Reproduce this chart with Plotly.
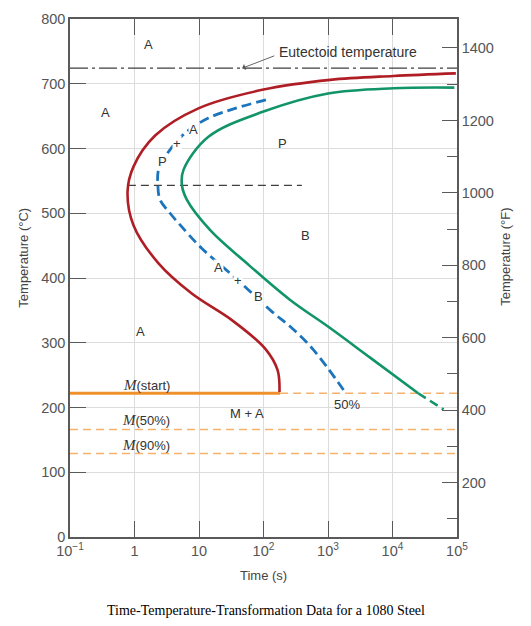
import math
import plotly.graph_objects as go

# ---------------- data (time in s, temperature in °C) ----------------
red_t = [9.6e4, 1.03e4, 1080, 100, 9.8, 2.09, 0.965, 0.78, 0.96, 2.34, 7.73, 32.3, 106, 165, 177]
red_T = [716, 712, 706, 691, 662, 620, 572, 533, 482, 423, 376, 335, 291, 258, 224]

blue_t = [109, 36.4, 14.0, 6.1, 3.37, 2.36, 2.30, 2.49, 3.56, 5.09, 11.0, 40.8, 135, 259, 596, 1742]
blue_T = [675, 662, 647, 624, 595, 567, 544, 521, 500, 482, 446, 396, 348, 325, 289, 227]

green_t = [9.1e4, 1.03e4, 1000, 100, 14.0, 5.75, 5.43, 6.47, 14.9, 51.9, 259, 1000, 4500, 2.5e4]
green_T = [694, 693, 685, 657, 618, 567, 544, 521, 474, 425, 366, 325, 277, 222]
green_tail_t = [2.5e4, 6.2e4]
green_tail_T = [222, 197]

eutectoid_T = 724
nose_line_T = 543
nose_line_t = [0.79, 393]
m_start_T = 222
m_start_end_t = 181
m50_T = 166
m90_T = 129
t_min, t_max = 0.1, 1e5

x_tickvals = [0.1, 1, 10, 100, 1000, 1e4, 1e5]
x_ticktext = ["10<sup>−1</sup>", "1", "10", "10<sup>2</sup>", "10<sup>3</sup>", "10<sup>4</sup>", "10<sup>5</sup>"]
yC_ticks = [0, 100, 200, 300, 400, 500, 600, 700, 800]
yF_ticks = [200, 400, 600, 800, 1000, 1200, 1400]

# region labels: (text, time, temperature)
region_labels = [
    ("A", 1.62, 761), ("A", 0.35, 655), ("P", 195, 607), ("B", 443, 466),
    ("A", 1.22, 317), ("M + A", 55, 191), ("50%", 1963, 205),
]
curve_labels = [
    ("A", 8.2, 629), ("+", 4.54, 607), ("P", 2.74, 580),
    ("A", 20, 416), ("+", 40.8, 396), ("B", 83.6, 371),
]
m_labels = [("start", 1.55, 235), ("50%", 1.52, 181), ("90%", 1.52, 142)]

# ---------------- styling ----------------
RED = "#B01E25"
GREEN = "#119469"
BLUE = "#1C74BC"
ORANGE = "#F0902C"
ORANGE_L = "#F6B26D"
DARK = "#3f3f3f"
AX = "#5a5a5a"
GRID = "#dcdcdc"
SANS = "Liberation Sans, Arial, sans-serif"
SERIF = "Liberation Serif, Times New Roman, serif"

fig = go.Figure()

def line(x, y, color, width, dash="solid", shape="linear"):
    fig.add_trace(go.Scatter(x=x, y=y, mode="lines",
                             line=dict(color=color, width=width, dash=dash, shape=shape, smoothing=1.0),
                             hoverinfo="skip", showlegend=False))

# horizontal reference lines
line([t_min, t_max], [eutectoid_T] * 2, DARK, 1.3, "18px,4px,3px,4px")
line(nose_line_t, [nose_line_T] * 2, DARK, 1.3, "8px,5px")
line([m_start_end_t, t_max], [m_start_T] * 2, ORANGE_L, 1.5, "8px,5px")
line([t_min, t_max], [m50_T] * 2, ORANGE_L, 1.5, "8px,5px")
line([t_min, t_max], [m90_T] * 2, ORANGE_L, 1.5, "8px,5px")
line([t_min, m_start_end_t], [m_start_T] * 2, ORANGE, 3)

# transformation curves
line(green_t, green_T, GREEN, 2.6, shape="spline")
line(green_tail_t, green_tail_T, GREEN, 2.6, "9px,5px")
line(blue_t, blue_T, BLUE, 2.8, "10px,5px", shape="spline")
line(red_t, red_T, RED, 2.6, shape="spline")

# secondary axis dummy trace for °F
fig.add_trace(go.Scatter(x=[t_min], y=[None], yaxis="y2", mode="lines", showlegend=False, hoverinfo="skip"))

ann = []
for txt, t, T in region_labels:
    ann.append(dict(x=math.log10(t), y=T, text=txt, showarrow=False,
                    font=dict(family=SANS, size=13, color="#333")))
for txt, t, T in curve_labels:
    ann.append(dict(x=math.log10(t), y=T, text=txt, showarrow=False, bgcolor="white",
                    borderpad=0, font=dict(family=SANS, size=13, color="#333")))
for txt, t, T in m_labels:
    ann.append(dict(x=math.log10(t), y=T, showarrow=False,
                    text=f'<span style="font-family:Liberation Serif;font-style:italic;font-size:15px">M</span>({txt})',
                    font=dict(family=SANS, size=13, color="#333")))
# eutectoid annotation
ann.append(dict(x=math.log10(2056), y=749, text="Eutectoid temperature", showarrow=False,
                font=dict(family=SANS, size=14, color="#333")))
ann.append(dict(x=math.log10(46.7), y=eutectoid_T, ax=math.log10(155), ay=744, axref="x", ayref="y",
                text="", showarrow=True, arrowhead=1, arrowsize=1.2, arrowwidth=0.9, arrowcolor="#555"))
# axis titles & caption
ann.append(dict(xref="paper", yref="paper", x=0.5, y=-0.075, yanchor="middle", text="Time (s)",
                showarrow=False, font=dict(family=SANS, size=13, color="#444")))
ann.append(dict(xref="paper", yref="paper", x=-0.145, y=0.54, textangle=-90, text="Temperature (°C)",
                showarrow=False, font=dict(family=SANS, size=13, color="#444")))
ann.append(dict(xref="paper", yref="paper", x=1.15, y=0.54, textangle=-90, text="Temperature (°F)",
                showarrow=False, font=dict(family=SANS, size=13, color="#444")))
ann.append(dict(xref="paper", yref="paper", x=0.507, y=-0.141, yanchor="middle",
                text="Time-Temperature-Transformation Data for a 1080 Steel",
                showarrow=False, font=dict(family=SERIF, size=14, color="#000")))

fig.update_layout(
    width=531, height=626,
    margin=dict(l=70, r=74, t=19, b=89),
    paper_bgcolor="white", plot_bgcolor="white",
    showlegend=False,
    annotations=ann,
    xaxis=dict(type="log", range=[-1, 5], tickvals=x_tickvals, ticktext=x_ticktext,
               showgrid=True, gridcolor=GRID, gridwidth=1,
               ticks="inside", ticklen=16, tickwidth=1.3, tickcolor=AX,
               showline=True, linecolor=AX, linewidth=1.5, mirror="ticks",
               tickfont=dict(family=SANS, size=14.5, color="#555"), zeroline=False),
    yaxis=dict(range=[0, 800], tickvals=yC_ticks, showgrid=True, gridcolor=GRID, gridwidth=1,
               ticks="inside", ticklen=16, tickwidth=1.3, tickcolor=AX,
               showline=True, linecolor=AX, linewidth=1.5,
               tickfont=dict(family=SANS, size=14.5, color="#555"), zeroline=False),
    yaxis2=dict(overlaying="y", side="right", range=[50, 1480], tickvals=yF_ticks,
                showgrid=False, ticks="inside", ticklen=15, tickwidth=1.3, tickcolor=AX,
                minor=dict(dtick=100, tick0=0, ticks="inside", ticklen=10, tickwidth=1.3, tickcolor=AX),
                showline=True, linecolor=AX, linewidth=1.5,
                tickfont=dict(family=SANS, size=14.5, color="#555"), zeroline=False),
)

fig.write_html("out.html", config={"displayModeBar": False},
               post_script="document.body.style.margin='0';")
